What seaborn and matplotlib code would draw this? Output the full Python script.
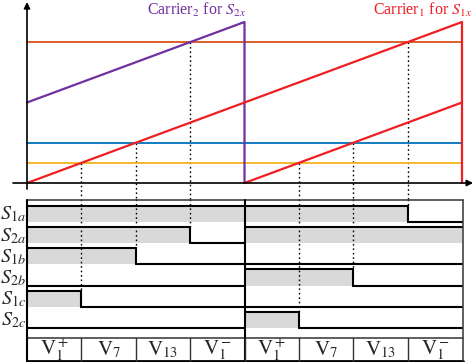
import matplotlib
matplotlib.use("Agg")
import matplotlib.pyplot as plt
import seaborn as sns

# carriers: time in half periods (0..2), value normalised (0..1)
carrier1_t = [0.0, 2.0, 2.0]
carrier1_v = [0.0, 1.0, 0.0]
carrier1b_t = [1.0, 2.0]
carrier1b_v = [0.0, 0.5]
carrier2_t = [0.0, 1.0, 1.0]
carrier2_v = [0.5, 1.0, 0.0]

ref_levels = [0.875, 0.25, 0.125]
ref_colors = ["#D95319", "#0072BD", "#F5B21A"]

# crossing instants, the reference they hit and the switch row they drive
cross_t = [0.25, 0.5, 0.75, 1.25, 1.5, 1.75]
cross_v = [0.125, 0.25, 0.875, 0.125, 0.25, 0.875]
cross_row = [4, 2, 1, 5, 3, 0]

row_labels = [r"$S_{1a}$", r"$S_{2a}$", r"$S_{1b}$", r"$S_{2b}$", r"$S_{1c}$", r"$S_{2c}$"]
# end of the ON interval in each half period (ON starts at 0 and at 1)
on_end_first = [1.0, 0.75, 0.5, 0.0, 0.25, 0.0]
on_end_second = [1.75, 2.0, 1.0, 1.5, 1.0, 1.25]

vector_edges = [0.0, 0.25, 0.5, 0.75, 1.0, 1.25, 1.5, 1.75, 2.0]
vector_labels = [r"$\mathrm{V}_1^+$", r"$\mathrm{V}_7$", r"$\mathrm{V}_{13}$", r"$\mathrm{V}_1^-$"] * 2

sns.set_theme(style="white")
plt.rcParams["font.family"] = ["Liberation Serif", "DejaVu Serif"]
plt.rcParams["mathtext.fontset"] = "stix"

W, H = 474, 362
x0, xs = 27, 217.5          # pixel of t=0, pixels per unit t
xlim = (-x0 / xs, (W - x0) / xs)
purple = "#7030A0"
red = "#F01E23"

fig = plt.figure(figsize=(W / 100, H / 100), dpi=100)

# ---- carrier panel ----
ax = fig.add_axes([0, (H - 199) / H, 1, 199 / H])
v0, vs = 183, 161
ax.set_xlim(xlim)
ax.set_ylim((v0 - 199) / vs, v0 / vs)
ax.axis("off")

for lvl, c in zip(ref_levels, ref_colors):
    sns.lineplot(x=[0, 2], y=[lvl, lvl], color=c, lw=1.3, ax=ax)
sns.lineplot(x=carrier2_t, y=carrier2_v, sort=False, estimator=None, color=purple, lw=1.6, ax=ax)
sns.lineplot(x=carrier1_t, y=carrier1_v, sort=False, estimator=None, color=red, lw=1.6, ax=ax)
sns.lineplot(x=carrier1b_t, y=carrier1b_v, sort=False, estimator=None, color=red, lw=1.6, ax=ax)

ybot = ax.get_ylim()[0]
for t, v in zip(cross_t, cross_v):
    ax.plot([t, t], [v, ybot], color="black", lw=1.0, ls=(0, (1.2, 2)), zorder=1)

arrow = dict(arrowstyle="-|>", color="black", lw=1.2, mutation_scale=9, shrinkA=0, shrinkB=0)
ax.annotate("", xy=(xlim[1] - 0.004, 0), xytext=((13 - x0) / xs, 0), arrowprops=arrow)
ax.annotate("", xy=(0, (v0 - 2) / vs), xytext=(0, (v0 - 189) / vs), arrowprops=arrow)

ax.text(1.008, (v0 - 15) / vs, r"Carrier$_2$ for $S_{2x}$", color=purple,
        ha="right", va="baseline", fontsize=11.5)
ax.text(2.045, (v0 - 15) / vs, r"Carrier$_1$ for $S_{1x}$", color=red,
        ha="right", va="baseline", fontsize=11.5)

# ---- switching table ----
tb = fig.add_axes([0, 0, 1, 163 / H])
r0, rs = 200, 21.2          # pixel of row 0 top, pixels per row
tb.set_xlim(xlim)
tb.set_ylim((H - r0) / rs, (199 - r0) / rs)
tb.axis("off")

hi_off, lo_off = 0.27, 1.04
for k, lab in enumerate(row_labels):
    hi, lo = k + hi_off, k + lo_off
    for start, end in [(0.0, on_end_first[k]), (1.0, on_end_second[k])]:
        stop = start + 1
        if end > start:
            tb.fill_between([start, end], hi, lo, color="#D9D9D9", lw=0, zorder=1)
            tb.plot([start, end], [hi, hi], color="black", lw=1.5, zorder=3)
        if end < stop:
            tb.plot([end, stop], [lo, lo], color="black", lw=1.5, zorder=3)
            if end > start:
                tb.plot([end, end], [hi, lo], color="black", lw=1.5, zorder=3)
    tb.text(-0.006, k + 0.7, lab, ha="right", va="center", fontsize=14.5)

ytop = tb.get_ylim()[1]
for t, k in zip(cross_t, cross_row):
    tb.plot([t, t], [ytop, k + hi_off], color="black", lw=1.0, ls=(0, (1.2, 2)), zorder=2)

vtop, vbot = 6.495, 7.6
right = 2.006
frame = dict(color="#333333", lw=1.1, clip_on=False, zorder=4)
tb.plot([0, right], [0, 0], **frame)
tb.plot([0, right], [vtop, vtop], **frame)
tb.plot([0, right], [vbot, vbot], color="black", lw=2.0, clip_on=False, zorder=4)
tb.plot([right, right], [0, vbot], **frame)
tb.plot([0, 0], [0, vbot], color="black", lw=1.5, clip_on=False, zorder=4)
tb.plot([1, 1], [0, vbot], color="black", lw=1.5, zorder=4)
for t in vector_edges[1:-1]:
    tb.plot([t, t], [vtop, vbot], color="#333333", lw=1.0, zorder=4)
for i, lab in enumerate(vector_labels):
    xc = (vector_edges[i] + vector_edges[i + 1]) / 2
    tb.text(xc, (vtop + vbot) / 2 + 0.02, lab, ha="center", va="center", fontsize=15)

fig.savefig("out.png", dpi=100)
